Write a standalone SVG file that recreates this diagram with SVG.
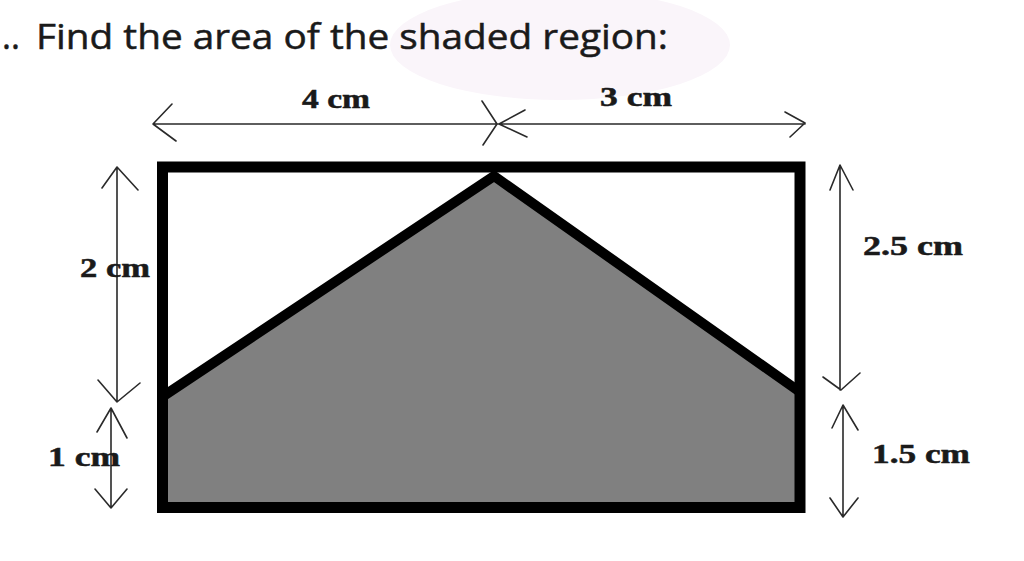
<svg xmlns="http://www.w3.org/2000/svg" width="1024" height="561" viewBox="0 0 1024 561">
<style>
.title{font-family:"Open Sans","Liberation Sans",sans-serif;font-size:34px;fill:#1a1a1a;stroke:#1a1a1a;stroke-width:0.5}
.lbl{font-family:"Liberation Serif","Times New Roman",serif;font-weight:bold;font-size:27px;fill:#1a1a1a;stroke:#1a1a1a;stroke-width:0.5}
.dim{fill:none;stroke:#2a2a2a;stroke-width:1.6;stroke-linecap:round;stroke-linejoin:round}
.frame{fill:none;stroke:#000;stroke-width:11;stroke-linejoin:miter}
.diag{fill:none;stroke:#000;stroke-width:10;stroke-linejoin:miter;stroke-linecap:round}
</style>
<rect width="1024" height="561" fill="#fff"/>
<ellipse cx="560" cy="45" rx="170" ry="55" fill="#faf5fa"/>
<g id="title">
<text class="title" x="2" y="49">..</text>
<text class="title" x="36" y="49" textLength="632" lengthAdjust="spacingAndGlyphs">Find the area of the shaded region:</text>
</g>
<g id="figure">
<polygon points="162,397 494,176 800,392 800,507 162,507" fill="#808080"/>
<polyline class="diag" points="162,397 494,176 800,392"/>
<rect class="frame" x="162.5" y="167" width="637.5" height="340.5"/>
</g>
<g id="dimensions">
<path class="dim" d="M153 124 H805 M172 104 L153 124 L176 141 M482 101 L497 124 L483 145 M525 110 L499 124 L527 137 M785 112 L805 123 L790 137"/>
<path class="dim" d="M117 167 V402 M102 188 L117 167 L138 190 M98 380 L117 402 L140 383 M111 408 V508 M97 432 L111 408 L127 438 M95 489 L111 508 L127 489"/>
<path class="dim" d="M840 165 V390 M830 190 L840 165 L853 190 M823 377 L841 390 L860 373 M843 405 V517 M832 428 L843 405 L858 430 M830 498 L843 517 L858 498"/>
</g>
<g id="labels">
<text class="lbl" x="302" y="108" textLength="68" lengthAdjust="spacingAndGlyphs">4 cm</text>
<text class="lbl" x="600" y="106" textLength="72" lengthAdjust="spacingAndGlyphs">3 cm</text>
<text class="lbl" x="80" y="277" textLength="70" lengthAdjust="spacingAndGlyphs">2 cm</text>
<text class="lbl" x="48" y="466" textLength="72" lengthAdjust="spacingAndGlyphs">1 cm</text>
<text class="lbl" x="863" y="255" textLength="100" lengthAdjust="spacingAndGlyphs">2.5 cm</text>
<text class="lbl" x="872" y="463" textLength="98" lengthAdjust="spacingAndGlyphs">1.5 cm</text>
</g>
</svg>
